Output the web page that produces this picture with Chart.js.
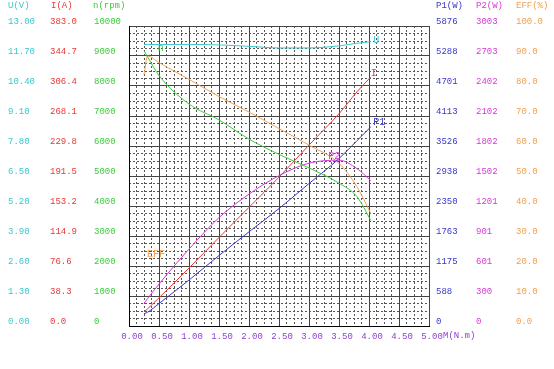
<!DOCTYPE html>
<html>
<head>
<meta charset="utf-8">
<script src="https://cdn.jsdelivr.net/npm/chart.js@4.4.0/dist/chart.umd.min.js"></script>
<style>
  body { margin: 0; background: #fff; }
</style>
</head>
<body>
<canvas id="myChart" width="554" height="369"></canvas>
<script>
// torque points M (N.m)
const torque = [0.25, 0.31, 0.5, 1.0, 1.5, 2.0, 2.5, 3.0, 3.5, 3.8, 4.03]
const voltage = [12.2, 12.2, 12.2, 12.2, 12.18, 12.12, 12.05, 12.05, 12.14, 12.25, 12.32]
const current = [18, 22, 36, 74, 113, 151.5, 190, 231, 271, 299, 318]
const speed = [9170, 8970, 8350, 7400, 6870, 6230, 5720, 5270, 4760, 4310, 3520]
const powerIn = [240, 270, 440, 900, 1380, 1845, 2300, 2790, 3280, 3630, 3900]
const powerOut = [227, 275, 420, 770, 1085, 1320, 1505, 1630, 1660, 1575, 1455]
const efficiency = [83.7, 90, 87.8, 82.2, 76.5, 71.3, 65.8, 60.3, 54.2, 46.4, 37.5]

const xTicks = ['0.00', '0.50', '1.00', '1.50', '2.00', '2.50', '3.00', '3.50', '4.00', '4.50', '5.00']
const uTicks = ['0.00', '1.30', '2.60', '3.90', '5.20', '6.50', '7.80', '9.10', '10.40', '11.70', '13.00']
const iTicks = ['0.0', '38.3', '76.6', '114.9', '153.2', '191.5', '229.8', '268.1', '306.4', '344.7', '383.0']
const nTicks = ['0', '1000', '2000', '3000', '4000', '5000', '6000', '7000', '8000', '9000', '10000']
const p1Ticks = ['0', '588', '1175', '1763', '2350', '2938', '3526', '4113', '4701', '5288', '5876']
const p2Ticks = ['0', '300', '601', '901', '1201', '1502', '1802', '2102', '2402', '2703', '3003']
const effTicks = ['0.0', '10.0', '20.0', '30.0', '40.0', '50.0', '60.0', '70.0', '80.0', '90.0', '100.0']

const cyan = '#3cc8cc'
const red = '#e83838'
const green = '#3ccc3c'
const blue = '#3838c8'
const magenta = '#d838d8'
const orange = '#f0a050'
const purple = '#9040d0'

const font = { family: '"Liberation Mono", monospace', size: 9 }

function points(values) {
    return values.map((v, i) => ({ x: torque[i], y: v }))
}

function yAxis(pos, weight, max, labels, color, width) {
    return {
        type: 'linear',
        position: pos,
        weight: weight,
        min: 0,
        max: max,
        afterBuildTicks: s => { s.ticks = labels.map((l, i) => ({ value: max * i / 10 })) },
        afterFit: s => { s.width = width },
        grid: { display: false, drawTicks: false },
        border: { display: false },
        ticks: {
            color: color,
            font: font,
            padding: 7,
            autoSkip: false,
            crossAlign: pos == 'left' ? 'far' : 'near',
            labelOffset: -4,
            callback: (v, i) => labels[i]
        }
    }
}

const nAxis = yAxis('left', 0, 10000, nTicks, green, 35)
nAxis.grid = { display: true, drawTicks: false, color: '#444', lineWidth: 1 }
nAxis.border = { display: true, color: '#000' }

// curve name labels (placed in data units)
const curveNames = [
    { text: 'U', x: 4.12, axis: 'yU', y: 12.39, color: cyan },
    { text: 'n', x: 0.53, axis: 'yN', y: 9270, color: green },
    { text: 'I', x: 4.08, axis: 'yI', y: 323, color: red },
    { text: 'P1', x: 4.17, axis: 'yP1', y: 3996, color: blue },
    { text: 'P2', x: 3.42, axis: 'yP2', y: 1702, color: magenta },
    { text: 'EFF', x: 0.45, axis: 'yEff', y: 24, color: orange }
]
const axisTitles = [
    { id: 'yU', text: 'U(V)', color: cyan, dx: 0 },
    { id: 'yI', text: 'I(A)', color: red, dx: 1 },
    { id: 'yN', text: 'n(rpm)', color: green, dx: -1 },
    { id: 'yP1', text: 'P1(W)', color: blue, dx: 7 },
    { id: 'yP2', text: 'P2(W)', color: magenta, dx: 7 },
    { id: 'yEff', text: 'EFF(%)', color: orange, dx: 7 }
]

const textPlugin = {
    id: 'texts',
    afterDraw(chart) {
        const ctx = chart.ctx
        ctx.save()
        ctx.textBaseline = 'middle'
        ctx.font = '9px "Liberation Mono", monospace'
        ctx.textAlign = 'left'
        axisTitles.forEach(t => {
            ctx.fillStyle = t.color
            ctx.fillText(t.text, chart.scales[t.id].left + t.dx, 6)
        })
        ctx.fillStyle = purple
        ctx.fillText('M(N.m)', chart.scales.x.getPixelForValue(5) + 14, 336)
        ctx.font = '10px "Liberation Mono", monospace'
        ctx.textAlign = 'center'
        curveNames.forEach(l => {
            ctx.fillStyle = l.color
            ctx.fillText(l.text, chart.scales.x.getPixelForValue(l.x), chart.scales[l.axis].getPixelForValue(l.y))
        })
        ctx.restore()
    }
}

function line(label, values, axis, color) {
    return {
        label: label,
        data: points(values),
        yAxisID: axis,
        borderColor: color,
        borderWidth: 1,
        pointRadius: 0,
        fill: false,
        cubicInterpolationMode: 'monotone'
    }
}

new Chart('myChart', {
    type: 'line',
    data: {
        datasets: [
            line('U', voltage, 'yU', cyan),
            line('n', speed, 'yN', green),
            line('I', current, 'yI', red),
            line('P1', powerIn, 'yP1', blue),
            line('P2', powerOut, 'yP2', magenta),
            line('EFF', efficiency, 'yEff', orange)
        ]
    },
    options: {
        responsive: false,
        animation: false,
        layout: { padding: { left: 8, top: 26, right: 0, bottom: 0 } },
        plugins: { legend: { display: false }, tooltip: { enabled: false } },
        scales: {
            x: {
                type: 'linear',
                min: 0,
                max: 5,
                afterBuildTicks: s => { s.ticks = xTicks.map((l, i) => ({ value: i * 0.5 })) },
                afterFit: s => { s.height = 43 },
                grid: { color: '#444', drawTicks: false },
                border: { display: true, color: '#000' },
                ticks: {
                    color: purple,
                    font: font,
                    padding: 5,
                    labelOffset: 3,
                    maxRotation: 0,
                    autoSkip: false,
                    callback: (v, i) => xTicks[i]
                }
            },
            xMinor: {
                type: 'linear',
                position: 'bottom',
                min: 0,
                max: 5,
                afterBuildTicks: s => {
                    s.ticks = []
                    for (let i = 0; i <= 40; i++) s.ticks.push({ value: i * 0.125 })
                },
                afterFit: s => { s.height = 0 },
                grid: { drawTicks: false, color: c => c.index % 4 ? '#555' : 'rgba(0,0,0,0)' },
                border: { display: false, dash: [2, 2] },
                ticks: { display: false }
            },
            yMinor: {
                type: 'linear',
                position: 'left',
                weight: -1,
                min: 0,
                max: 10000,
                afterBuildTicks: s => {
                    s.ticks = []
                    for (let i = 0; i <= 40; i++) s.ticks.push({ value: i * 250 })
                },
                afterFit: s => { s.width = 0 },
                grid: { drawTicks: false, color: c => c.index % 4 ? '#555' : 'rgba(0,0,0,0)' },
                border: { display: false, dash: [2, 2] },
                ticks: { display: false }
            },
            yN: nAxis,
            yI: yAxis('left', 1, 383, iTicks, red, 44),
            yU: yAxis('left', 2, 13, uTicks, cyan, 42),
            yP1: yAxis('right', 0, 5876, p1Ticks, blue, 40),
            yP2: yAxis('right', 1, 3003, p2Ticks, magenta, 40),
            yEff: yAxis('right', 2, 100, effTicks, orange, 45)
        }
    },
    plugins: [textPlugin]
})
</script>
</body>
</html>
